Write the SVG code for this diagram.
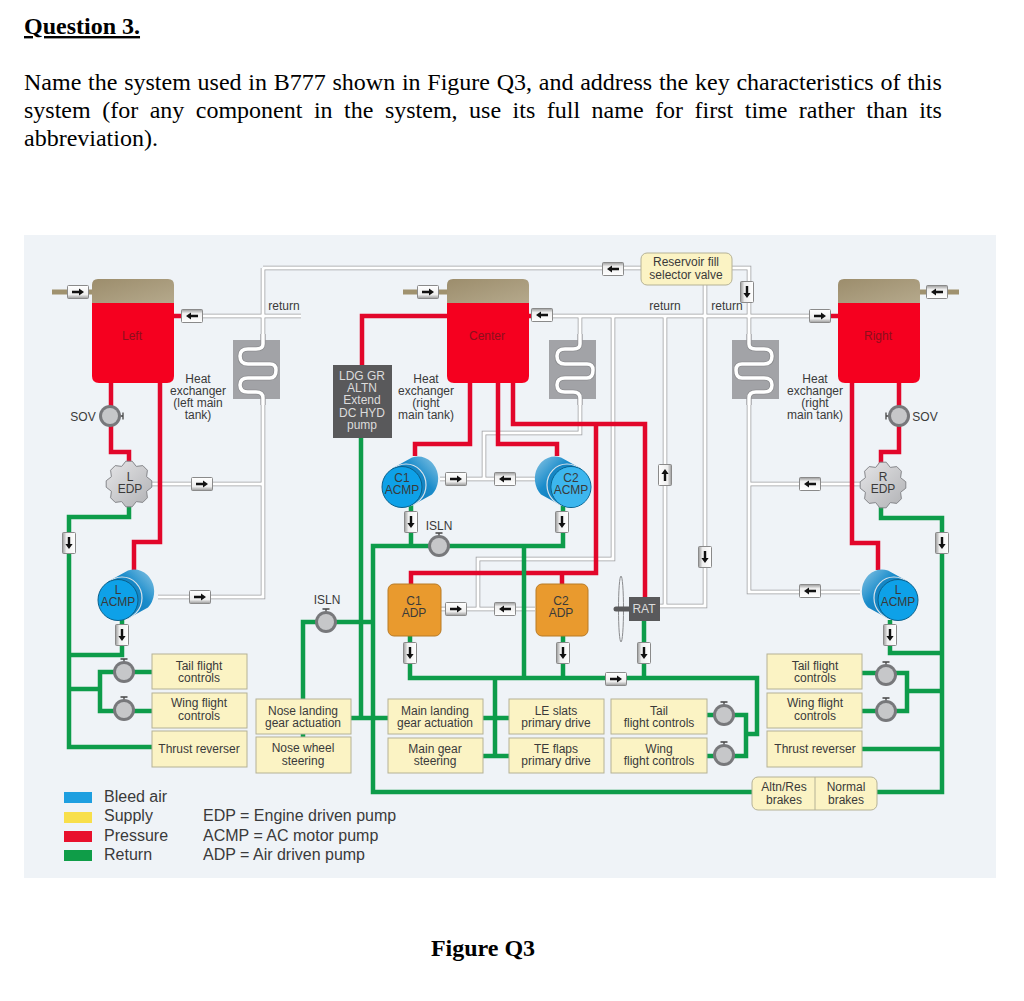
<svg xmlns="http://www.w3.org/2000/svg" xmlns:xlink="http://www.w3.org/1999/xlink" width="1024" height="1001" viewBox="0 0 1024 1001">
<style>
text{font-family:"Liberation Sans",Arial,sans-serif;font-size:12px;fill:#3a3a3a}
.c{text-anchor:middle}
.doc{font-family:"Liberation Serif","Times New Roman",serif;font-size:24px;fill:#000}
.b{font-weight:bold}
.lg{font-size:16px}
.lt{fill:#dcdcdc}
.tk{fill:#8c0f1c}
.box{fill:#fbf3c4;stroke:#b5b296;stroke-width:1}
.red{fill:none;stroke:#e2062a;stroke-width:4.5}
.grn{fill:none;stroke:#0d9c4a;stroke-width:4.5}
.po{fill:none;stroke:#9b9c9f;stroke-width:4.5}
.pi{fill:none;stroke:#fff;stroke-width:3}
.so{fill:none;stroke:#8d8e91;stroke-width:5}
.si{fill:none;stroke:#fff;stroke-width:3.5}
.hx{fill:#a2a3a7}
.adp{fill:#e99a2e;stroke:#b87a25}
</style>
<defs>
<linearGradient id="cvg" x1="0" y1="0" x2="0" y2="1"><stop offset="0" stop-color="#fff"/><stop offset=".7" stop-color="#eee"/><stop offset="1" stop-color="#999"/></linearGradient>
<linearGradient id="cyl" x1="0" y1="1" x2="1" y2="0"><stop offset="0" stop-color="#0a6eae"/><stop offset=".6" stop-color="#1a8ccb"/><stop offset="1" stop-color="#8cc6e4"/></linearGradient>
<linearGradient id="gear" x1="0" y1="0" x2="1" y2="1"><stop offset="0" stop-color="#e6e6e8"/><stop offset="1" stop-color="#b0b1b4"/></linearGradient>
<linearGradient id="tan" x1="0" y1="0" x2="1" y2="1"><stop offset="0" stop-color="#9c8d6c"/><stop offset="1" stop-color="#b5a98c"/></linearGradient>
<g id="cv"><rect x="-10.5" y="-6.5" width="21" height="13" rx="1" fill="url(#cvg)" stroke="#8a8a8a"/><path d="M-6 -1.2H1V-3.6L6 0L1 3.6V1.2H-6Z" fill="#111"/></g>
<g id="ball"><path d="M-3.5 -13H3.5M0 -13V-9" stroke="#444" stroke-width="1.3" fill="none"/><circle r="11" fill="#77787b"/><circle r="8" fill="#c6c7c9"/></g>
<path id="gearp" d="M-3.2 -22.8L3.2 -22.8L7.3 -17.6L13.8 -18.4L18.4 -13.8L17.6 -7.3L22.8 -3.2L22.8 3.2L17.6 7.3L18.4 13.8L13.8 18.4L7.3 17.6L3.2 22.8L-3.2 22.8L-7.3 17.6L-13.8 18.4L-18.4 13.8L-17.6 7.3L-22.8 3.2L-22.8 -3.2L-17.6 -7.3L-18.4 -13.8L-13.8 -18.4L-7.3 -17.6Z" fill="url(#gear)" stroke="#85868a" stroke-linejoin="round"/>
<g id="cyl1"><path d="M-10 -18.4L10 -29.4A20 22 0 0 1 30 7.4L10 18.4Z" fill="url(#cyl)"/><ellipse cx="4" cy="-2" rx="20" ry="21" fill="#1686c4" stroke="#d8e2ea" stroke-width="1.2"/><ellipse cx="0" cy="0" rx="20" ry="20.5" fill="#0ea1e8" stroke="#0b5f8a"/></g>
<path id="serp" d="M0 -6V4Q0 9 -7 9H-15Q-23 9 -23 16Q-23 24 -15 24H7Q13 24 13 30Q13 38 7 38H-15Q-23 38 -23 45Q-23 52 -15 52H-7Q0 52 0 58V65"/>
<path id="wp" d="M263 268H650M263 268V597H158M150 484H263M200 316H301M550 316H812M580 316V433H484V479M440 479H535M613 316V559H478V609M441 609H535M665 316V606H705V285M660 606H705M732 268H749V592H860M749 484H860"/>
</defs>

<rect x="24" y="235" width="972" height="643" fill="#eff3f7"/>

<g id="document-text">
<text class="doc b" x="24" y="34" text-decoration="underline">Question 3.</text>
<text class="doc" x="24" y="90" word-spacing="0.75">Name the system used in B777 shown in Figure Q3, and address the key characteristics of this</text>
<text class="doc" x="24" y="118" word-spacing="5.5">system (for any component in the system, use its full name for first time rather than its</text>
<text class="doc" x="24" y="146">abbreviation).</text>
<text class="doc b c" x="483" y="956">Figure Q3</text>
</g>

<g id="connectors">
<g id="supply-lines"><use href="#wp" class="po"/><use href="#wp" class="pi"/></g>
<path d="M52 292H92M403 292H447M920 292H959" fill="none" stroke="#a0926f" stroke-width="5"/>
<g id="pressure-lines">
<path class="red" d="M174 316H184M529 316H535M830 316H838"/>
<path class="red" d="M111 383V452H129V465"/>
<path class="red" d="M160 383V542H134V570"/>
<path class="red" d="M447 316H362V365"/>
<path class="red" d="M470 383V444H415V456"/>
<path class="red" d="M498 383V444H557V456"/>
<path class="red" d="M513 383V424H645V597"/>
<path class="red" d="M596 424V573H411V584M562 573V584"/>
<path class="red" d="M852 383V543H878V570"/>
<path class="red" d="M899 383V452H881V465"/>
</g>
<g id="return-lines">
<path class="grn" d="M129 505V517H69V747H152"/>
<path class="grn" d="M122 620V655H69M69 689H100M152 672H100V711H152"/>
<path class="grn" d="M881 505V518H942V792H877"/>
<path class="grn" d="M890 620V653H942M942 691H907M862 673H907V711H862M862 749H942"/>
<path class="grn" d="M361 438V718M351 718H388M303 699V622H373M303 734V737"/>
<path class="grn" d="M752 792H373V546H563V505M411 505V546M524 546V678"/>
<path class="grn" d="M410 636V678H757V734H746M563 636V678M644 621V678M495 678V756M483 718H509M483 756H509M707 715H746V756H707"/>
</g>
</g>

<g id="check-valves">
<use href="#cv" transform="translate(78,292)"/>
<use href="#cv" transform="translate(428,292)"/>
<use href="#cv" transform="translate(937,292) rotate(180)"/>
<use href="#cv" transform="translate(192,316) rotate(180)"/>
<use href="#cv" transform="translate(542,315) rotate(180)"/>
<use href="#cv" transform="translate(820,316)"/>
<use href="#cv" transform="translate(613,269) rotate(180)"/>
<use href="#cv" transform="translate(747,292) rotate(90)"/>
<use href="#cv" transform="translate(202,484)"/>
<use href="#cv" transform="translate(200,597)"/>
<use href="#cv" transform="translate(69,543) rotate(90)"/>
<use href="#cv" transform="translate(122,635) rotate(90)"/>
<use href="#cv" transform="translate(456,479)"/>
<use href="#cv" transform="translate(505,479) rotate(180)"/>
<use href="#cv" transform="translate(665,475) rotate(-90)"/>
<use href="#cv" transform="translate(705,557) rotate(90)"/>
<use href="#cv" transform="translate(810,484) rotate(180)"/>
<use href="#cv" transform="translate(810,591) rotate(180)"/>
<use href="#cv" transform="translate(942,543) rotate(90)"/>
<use href="#cv" transform="translate(890,635) rotate(90)"/>
<use href="#cv" transform="translate(411,522) rotate(90)"/>
<use href="#cv" transform="translate(562,522) rotate(90)"/>
<use href="#cv" transform="translate(456,609)"/>
<use href="#cv" transform="translate(505,609) rotate(180)"/>
<use href="#cv" transform="translate(410,653) rotate(90)"/>
<use href="#cv" transform="translate(563,653) rotate(90)"/>
<use href="#cv" transform="translate(644,653) rotate(90)"/>
<use href="#cv" transform="translate(616,679)"/>
</g>

<g id="return-labels">
<text class="c" x="284" y="310">return</text>
<text class="c" x="665" y="310">return</text>
<text class="c" x="727" y="310">return</text>
</g>

<g id="tank-left"><path d="M92 303V285Q92 279 98 279H168Q174 279 174 285V303Z" fill="url(#tan)"/><path d="M92 303H174V376Q174 383 167 383H99Q92 383 92 376Z" fill="#f5001f"/><text class="c tk" x="132" y="340">Left</text></g>
<g id="tank-center"><path d="M447 303V285Q447 279 453 279H523Q529 279 529 285V303Z" fill="url(#tan)"/><path d="M447 303H529V376Q529 383 522 383H454Q447 383 447 376Z" fill="#f5001f"/><text class="c tk" x="487" y="340">Center</text></g>
<g id="tank-right"><path d="M838 303V285Q838 279 844 279H914Q920 279 920 285V303Z" fill="url(#tan)"/><path d="M838 303H920V376Q920 383 913 383H845Q838 383 838 376Z" fill="#f5001f"/><text class="c tk" x="878" y="340">Right</text></g>

<g id="hx-left"><rect class="hx" x="233" y="340" width="47" height="59"/><g transform="translate(263,340)"><use href="#serp" class="so"/><use href="#serp" class="si"/></g><text class="c" x="198" y="383">Heat</text><text class="c" x="198" y="395">exchanger</text><text class="c" x="198" y="407">(left main</text><text class="c" x="198" y="419">tank)</text></g>
<g id="hx-center"><rect class="hx" x="549" y="340" width="47" height="59"/><g transform="translate(580,340)"><use href="#serp" class="so"/><use href="#serp" class="si"/></g><text class="c" x="426" y="383">Heat</text><text class="c" x="426" y="395">exchanger</text><text class="c" x="426" y="407">(right</text><text class="c" x="426" y="419">main tank)</text></g>
<g id="hx-right"><rect class="hx" x="732" y="340" width="47" height="59"/><g transform="translate(749,340) scale(-1,1)"><use href="#serp" class="so"/><use href="#serp" class="si"/></g><text class="c" x="815" y="383">Heat</text><text class="c" x="815" y="395">exchanger</text><text class="c" x="815" y="407">(right</text><text class="c" x="815" y="419">main tank)</text></g>

<g id="sov-left"><use href="#ball" transform="translate(110,416) rotate(90)"/><text class="c" x="83" y="421">SOV</text></g>
<g id="sov-right"><use href="#ball" transform="translate(899,416) rotate(-90)"/><text class="c" x="925" y="421">SOV</text></g>
<g id="l-edp"><use href="#gearp" transform="translate(129,484)"/><text class="c" x="130" y="481">L</text><text class="c" x="130" y="493">EDP</text></g>
<g id="r-edp"><use href="#gearp" transform="translate(883,485)"/><text class="c" x="883" y="481">R</text><text class="c" x="883" y="493">EDP</text></g>

<g id="l-acmp"><use href="#cyl1" transform="translate(118,600)"/><text class="c" x="118" y="594">L</text><text class="c" x="118" y="606">ACMP</text></g>
<g id="r-acmp"><use href="#cyl1" transform="translate(898,600) scale(-1,1)"/><text class="c" x="898" y="594">L</text><text class="c" x="898" y="606">ACMP</text></g>
<g id="c1-acmp"><use href="#cyl1" transform="translate(402,487)"/><text class="c" x="402" y="482">C1</text><text class="c" x="402" y="494">ACMP</text></g>
<g id="c2-acmp"><use href="#cyl1" transform="translate(571,487) scale(-1,1)"/><ellipse cx="571" cy="487" rx="19.5" ry="20" fill="#3db6ee"/><text class="c" x="571" y="482">C2</text><text class="c" x="571" y="494">ACMP</text></g>

<g id="ldg-pump"><rect x="333" y="365" width="59" height="73" fill="#59595b"/><text class="c lt" x="362" y="380">LDG GR</text><text class="c lt" x="362" y="392">ALTN</text><text class="c lt" x="362" y="404">Extend</text><text class="c lt" x="362" y="417">DC HYD</text><text class="c lt" x="362" y="429">pump</text></g>

<g id="reservoir"><rect class="box" x="641" y="253" width="91" height="32" rx="6"/><text class="c" x="686" y="266">Reservoir fill</text><text class="c" x="686" y="279">selector valve</text></g>

<g id="isln-top"><use href="#ball" transform="translate(439,546)"/><text class="c" x="439" y="530">ISLN</text></g>
<g id="isln-left"><use href="#ball" transform="translate(326,622)"/><text class="c" x="327" y="604">ISLN</text></g>
<g id="valve-l-tail"><use href="#ball" transform="translate(124,672)"/></g>
<g id="valve-l-wing"><use href="#ball" transform="translate(124,710)"/></g>
<g id="valve-r-tail"><use href="#ball" transform="translate(886,675)"/></g>
<g id="valve-r-wing"><use href="#ball" transform="translate(886,711)"/></g>
<g id="valve-c-tail"><use href="#ball" transform="translate(724,715)"/></g>
<g id="valve-c-wing"><use href="#ball" transform="translate(724,755)"/></g>

<g id="c1-adp"><rect class="adp" x="388" y="584" width="53" height="52" rx="6"/><text class="c" x="414" y="605">C1</text><text class="c" x="414" y="617">ADP</text></g>
<g id="c2-adp"><rect class="adp" x="536" y="584" width="52" height="52" rx="6"/><text class="c" x="561" y="605">C2</text><text class="c" x="561" y="617">ADP</text></g>
<g id="rat"><ellipse cx="621" cy="609" rx="2.5" ry="33" fill="#f2f5f8" stroke="#8a8b8e"/><path d="M616 609H630" stroke="#59595b" stroke-width="5" stroke-linecap="round"/><rect x="629" y="597" width="31" height="24" fill="#59595b"/><text class="c lt" x="644" y="613">RAT</text></g>

<g id="box-l-tail"><rect class="box" x="152" y="654" width="95" height="35"/><text class="c" x="199" y="670">Tail flight</text><text class="c" x="199" y="682">controls</text></g>
<g id="box-l-wing"><rect class="box" x="152" y="693" width="95" height="35"/><text class="c" x="199" y="707">Wing flight</text><text class="c" x="199" y="720">controls</text></g>
<g id="box-l-thrust"><rect class="box" x="152" y="731" width="95" height="36"/><text class="c" x="199" y="753">Thrust reverser</text></g>
<g id="box-nose-landing"><rect class="box" x="256" y="699" width="95" height="35"/><text class="c" x="303" y="715">Nose landing</text><text class="c" x="303" y="727">gear actuation</text></g>
<g id="box-nose-wheel"><rect class="box" x="256" y="737" width="95" height="36"/><text class="c" x="303" y="752">Nose wheel</text><text class="c" x="303" y="765">steering</text></g>
<g id="box-main-landing"><rect class="box" x="388" y="699" width="95" height="35"/><text class="c" x="435" y="715">Main landing</text><text class="c" x="435" y="727">gear actuation</text></g>
<g id="box-main-steering"><rect class="box" x="388" y="738" width="95" height="35"/><text class="c" x="435" y="753">Main gear</text><text class="c" x="435" y="765">steering</text></g>
<g id="box-le"><rect class="box" x="509" y="699" width="95" height="35"/><text class="c" x="556" y="715">LE slats</text><text class="c" x="556" y="727">primary drive</text></g>
<g id="box-te"><rect class="box" x="509" y="738" width="95" height="35"/><text class="c" x="556" y="753">TE flaps</text><text class="c" x="556" y="765">primary drive</text></g>
<g id="box-c-tail"><rect class="box" x="611" y="699" width="96" height="35"/><text class="c" x="659" y="715">Tail</text><text class="c" x="659" y="727">flight controls</text></g>
<g id="box-c-wing"><rect class="box" x="611" y="738" width="96" height="35"/><text class="c" x="659" y="753">Wing</text><text class="c" x="659" y="765">flight controls</text></g>
<g id="box-r-tail"><rect class="box" x="767" y="654" width="95" height="35"/><text class="c" x="815" y="670">Tail flight</text><text class="c" x="815" y="682">controls</text></g>
<g id="box-r-wing"><rect class="box" x="767" y="693" width="95" height="35"/><text class="c" x="815" y="707">Wing flight</text><text class="c" x="815" y="720">controls</text></g>
<g id="box-r-thrust"><rect class="box" x="767" y="731" width="95" height="36"/><text class="c" x="815" y="753">Thrust reverser</text></g>
<g id="box-brakes"><rect class="box" x="752" y="777" width="125" height="33" rx="6"/><path d="M815 777V810" stroke="#b5b296"/><text class="c" x="784" y="791">Altn/Res</text><text class="c" x="784" y="804">brakes</text><text class="c" x="846" y="791">Normal</text><text class="c" x="846" y="804">brakes</text></g>

<g id="legend">
<rect x="64" y="792" width="28" height="11" fill="#1e9fe0"/><text class="lg" x="104" y="802">Bleed air</text>
<rect x="64" y="812" width="28" height="11" fill="#f8df4a"/><text class="lg" x="104" y="821">Supply</text>
<rect x="64" y="831" width="28" height="11" fill="#e8102c"/><text class="lg" x="104" y="841">Pressure</text>
<rect x="64" y="850" width="28" height="11" fill="#0f9d48"/><text class="lg" x="104" y="860">Return</text>
<text class="lg" x="203" y="821">EDP = Engine driven pump</text>
<text class="lg" x="203" y="841">ACMP = AC motor pump</text>
<text class="lg" x="203" y="860">ADP = Air driven pump</text>
</g>
</svg>
